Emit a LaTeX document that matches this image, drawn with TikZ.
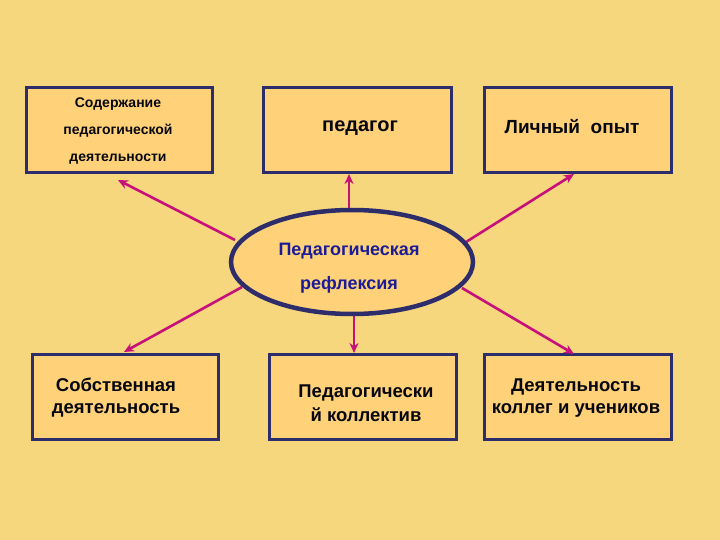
\documentclass[tikz,border=0pt]{standalone}
\usepackage{fontspec}
\setmainfont{Liberation Sans}
\usetikzlibrary{shapes.geometric,arrows.meta}
\definecolor{bg}{HTML}{F6D77E}
\definecolor{boxfill}{HTML}{FFD27A}
\definecolor{navy}{HTML}{2E2D6B}
\definecolor{txtblue}{HTML}{1C1C96}
\definecolor{arr}{HTML}{C8107A}
\begin{document}
\begin{tikzpicture}[x=1pt,y=-1pt,
  box/.style={draw=navy,line width=3pt,fill=boxfill,minimum width=#1,minimum height=85pt,inner sep=0pt},
  box/.default=186pt,
  conn/.style={draw=arr,line width=2.6pt,-{Stealth[length=10pt,width=9pt]}},
  lbl/.style={font=\bfseries,text=black!85!navy,align=center}]
\fill[bg] (0,0) rectangle (720,540);
\useasboundingbox (0,0) rectangle (720,540);
\node[box] (b1) at (119,130.5) {};
\node[box=188pt] (b2) at (357,130.5) {};
\node[box=187pt] (b3) at (577.5,130.5) {};
\node[box] (b4) at (125,397) {};
\node[box=187pt] (b5) at (362.5,397) {};
\node[box=187pt] (b6) at (577.5,397) {};
\node[lbl,font=\bfseries\fontsize{14}{27}\selectfont] at (118,131) {Содержание\\педагогической\\деятельности};
\node[lbl,font=\bfseries\fontsize{20}{22}\selectfont] at (360,128) {педагог};
\node[lbl,font=\bfseries\fontsize{19}{22}\selectfont] at (572,127) {Личный\ \ опыт};
\node[lbl,font=\bfseries\fontsize{18.5}{22}\selectfont] at (116,398) {Собственная\\деятельность};
\node[lbl,font=\bfseries\fontsize{18.5}{24}\selectfont] at (366,403) {Педагогически\\й коллектив};
\node[lbl,font=\bfseries\fontsize{18.5}{22}\selectfont] at (576,398) {Деятельность\\коллег и учеников};
\coordinate (c) at (352,262);
\coordinate (t1) at (118,180);
\coordinate (t2) at (349,174);
\coordinate (t3) at (574,174);
\coordinate (t4) at (124,352);
\coordinate (t5) at (354,353);
\coordinate (t6) at (574,354);
\draw[conn] (235,240) -- (t1);
\draw[conn] (349,215) -- (t2);
\draw[conn] (466,242) -- (t3);
\draw[conn] (242,287) -- (t4);
\draw[conn] (354,310) -- (t5);
\draw[conn] (462,288) -- (t6);
\node[ellipse,draw=navy,line width=4.5pt,fill=boxfill,minimum width=242pt,minimum height=104pt] (e) at (c) {};
\node[font=\bfseries\fontsize{18}{34}\selectfont,text=txtblue,align=center] at (349,268) {Педагогическая\\рефлексия};
\end{tikzpicture}
\end{document}
